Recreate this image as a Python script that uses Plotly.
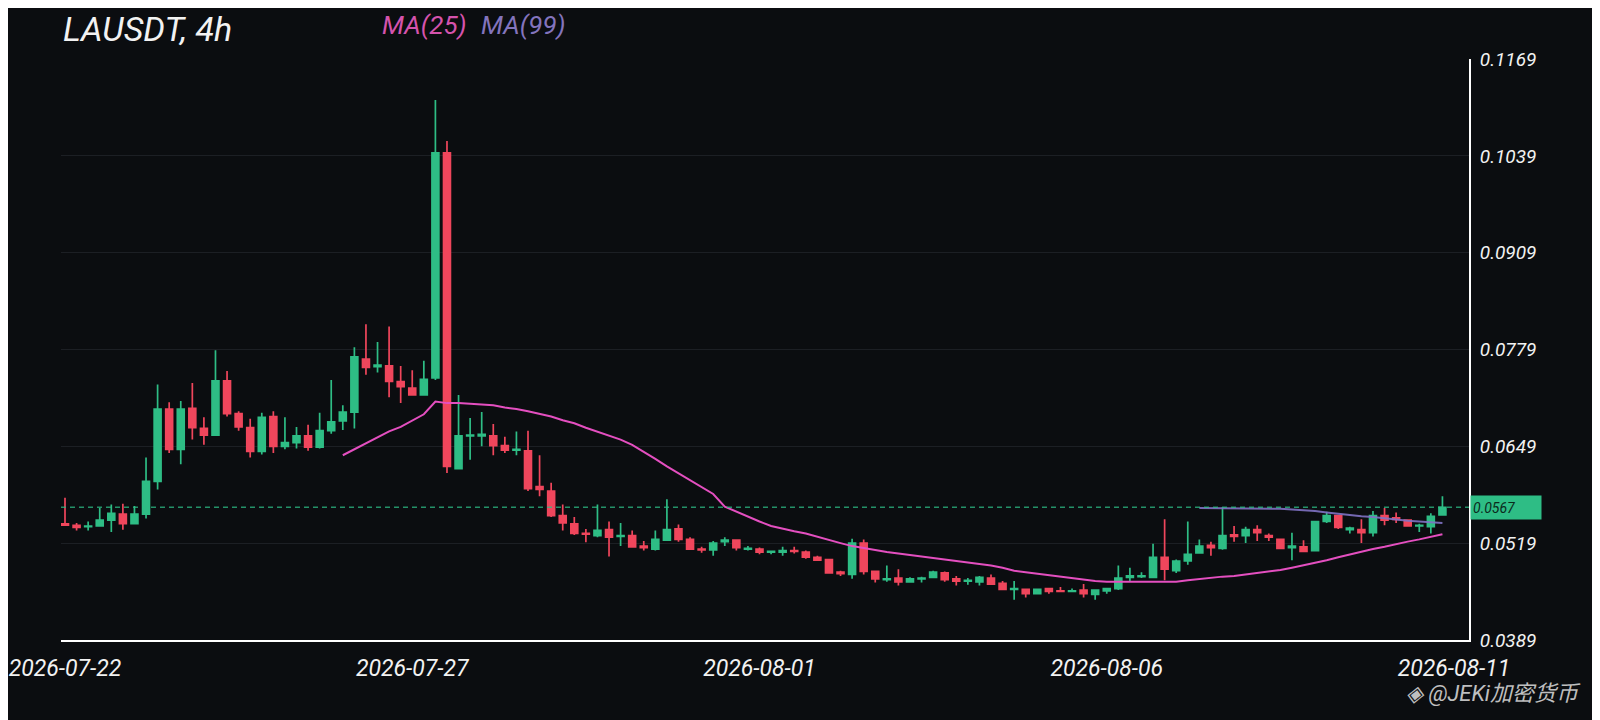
import pandas as pd
import plotly.graph_objects as go

# 4h candles, 2026-07-22 00:00 onwards
times = pd.date_range("2026-07-22 00:00", periods=120, freq="4h")

opens = [
    0.0545, 0.0543, 0.0541, 0.0542, 0.0550, 0.0558, 0.0545, 0.0558, 0.0602, 0.0699,
    0.0645, 0.0700, 0.0673, 0.0664, 0.0737, 0.0693, 0.0674, 0.0642, 0.0689, 0.0649,
    0.0654, 0.0663, 0.0648, 0.0670, 0.0683, 0.0695, 0.0766, 0.0756, 0.0757, 0.0736,
    0.0727, 0.0718, 0.0741, 0.1043, 0.0619, 0.0663, 0.0663, 0.0663, 0.0650, 0.0644,
    0.0643, 0.0595, 0.0589, 0.0556, 0.0545, 0.0532, 0.0529, 0.0537, 0.0528, 0.0529,
    0.0515, 0.0511, 0.0523, 0.0538, 0.0524, 0.0511, 0.0510, 0.0521, 0.0523, 0.0511,
    0.0511, 0.0507, 0.0507, 0.0509, 0.0507, 0.0500, 0.0497, 0.0480, 0.0477, 0.0519,
    0.0481, 0.0470, 0.0472, 0.0467, 0.0471, 0.0473, 0.0479, 0.0471, 0.0468, 0.0467,
    0.0472, 0.0465, 0.0457, 0.0457, 0.0451, 0.0458, 0.0455, 0.0454, 0.0456, 0.0450,
    0.0455, 0.0458, 0.0473, 0.0474, 0.0473, 0.0500, 0.0482, 0.0495, 0.0506, 0.0516,
    0.0512, 0.0530, 0.0529, 0.0537, 0.0529, 0.0524, 0.0513, 0.0514, 0.0509, 0.0548,
    0.0556, 0.0537, 0.0537, 0.0533, 0.0556, 0.0553, 0.0550, 0.0542, 0.0541, 0.0557,
]
highs = [
    0.0580, 0.0546, 0.0548, 0.0566, 0.0571, 0.0572, 0.0569, 0.0634, 0.0732, 0.0708,
    0.0710, 0.0734, 0.0688, 0.0778, 0.0750, 0.0696, 0.0686, 0.0694, 0.0696, 0.0688,
    0.0675, 0.0678, 0.0694, 0.0738, 0.0704, 0.0782, 0.0813, 0.0789, 0.0810, 0.0757,
    0.0751, 0.0764, 0.1114, 0.1059, 0.0718, 0.0687, 0.0695, 0.0679, 0.0662, 0.0669,
    0.0670, 0.0637, 0.0600, 0.0571, 0.0554, 0.0538, 0.0571, 0.0548, 0.0546, 0.0536,
    0.0522, 0.0536, 0.0578, 0.0544, 0.0527, 0.0514, 0.0522, 0.0527, 0.0524, 0.0515,
    0.0513, 0.0509, 0.0514, 0.0514, 0.0509, 0.0502, 0.0498, 0.0482, 0.0525, 0.0524,
    0.0481, 0.0489, 0.0484, 0.0473, 0.0474, 0.0482, 0.0481, 0.0475, 0.0472, 0.0475,
    0.0477, 0.0468, 0.0468, 0.0458, 0.0458, 0.0459, 0.0460, 0.0458, 0.0464, 0.0457,
    0.0458, 0.0489, 0.0486, 0.0480, 0.0518, 0.0551, 0.0497, 0.0548, 0.0524, 0.0521,
    0.0567, 0.0542, 0.0541, 0.0543, 0.0532, 0.0525, 0.0533, 0.0523, 0.0549, 0.0561,
    0.0557, 0.0541, 0.0551, 0.0562, 0.0566, 0.0560, 0.0551, 0.0545, 0.0559, 0.0582,
]
lows = [
    0.0542, 0.0536, 0.0536, 0.0541, 0.0534, 0.0537, 0.0545, 0.0552, 0.0591, 0.0640,
    0.0625, 0.0658, 0.0651, 0.0664, 0.0689, 0.0670, 0.0634, 0.0638, 0.0640, 0.0645,
    0.0646, 0.0643, 0.0646, 0.0666, 0.0671, 0.0673, 0.0745, 0.0748, 0.0715, 0.0707,
    0.0717, 0.0717, 0.0738, 0.0613, 0.0618, 0.0631, 0.0649, 0.0637, 0.0640, 0.0637,
    0.0589, 0.0582, 0.0554, 0.0536, 0.0530, 0.0520, 0.0527, 0.0501, 0.0515, 0.0513,
    0.0509, 0.0509, 0.0522, 0.0521, 0.0510, 0.0506, 0.0502, 0.0515, 0.0509, 0.0509,
    0.0504, 0.0504, 0.0502, 0.0505, 0.0498, 0.0495, 0.0478, 0.0475, 0.0471, 0.0477,
    0.0466, 0.0467, 0.0462, 0.0466, 0.0466, 0.0472, 0.0467, 0.0462, 0.0463, 0.0462,
    0.0463, 0.0456, 0.0443, 0.0446, 0.0450, 0.0451, 0.0454, 0.0454, 0.0446, 0.0443,
    0.0451, 0.0456, 0.0468, 0.0472, 0.0472, 0.0469, 0.0479, 0.0490, 0.0505, 0.0502,
    0.0510, 0.0521, 0.0519, 0.0522, 0.0522, 0.0511, 0.0496, 0.0507, 0.0508, 0.0546,
    0.0538, 0.0532, 0.0519, 0.0528, 0.0543, 0.0546, 0.0541, 0.0534, 0.0532, 0.0557,
]
closes = [
    0.0543, 0.0540, 0.0542, 0.0550, 0.0559, 0.0545, 0.0558, 0.0602, 0.0699, 0.0645,
    0.0699, 0.0674, 0.0664, 0.0737, 0.0693, 0.0675, 0.0642, 0.0688, 0.0649, 0.0654,
    0.0663, 0.0648, 0.0670, 0.0682, 0.0695, 0.0769, 0.0755, 0.0758, 0.0736, 0.0729,
    0.0718, 0.0739, 0.1043, 0.0622, 0.0663, 0.0664, 0.0665, 0.0650, 0.0644, 0.0645,
    0.0592, 0.0591, 0.0556, 0.0546, 0.0532, 0.0531, 0.0536, 0.0527, 0.0529, 0.0514,
    0.0513, 0.0524, 0.0537, 0.0524, 0.0511, 0.0510, 0.0519, 0.0523, 0.0513, 0.0512,
    0.0507, 0.0508, 0.0509, 0.0508, 0.0500, 0.0496, 0.0479, 0.0478, 0.0519, 0.0481,
    0.0471, 0.0471, 0.0467, 0.0471, 0.0472, 0.0480, 0.0470, 0.0468, 0.0469, 0.0473,
    0.0464, 0.0457, 0.0458, 0.0451, 0.0457, 0.0454, 0.0454, 0.0455, 0.0451, 0.0456,
    0.0458, 0.0472, 0.0475, 0.0475, 0.0500, 0.0484, 0.0495, 0.0504, 0.0515, 0.0513,
    0.0529, 0.0528, 0.0537, 0.0533, 0.0527, 0.0512, 0.0515, 0.0508, 0.0548, 0.0556,
    0.0540, 0.0539, 0.0533, 0.0556, 0.0550, 0.0551, 0.0542, 0.0543, 0.0555, 0.0567,
]

# moving averages as drawn (MA25 starts at candle 24, MA99 at candle 98)
ma25 = [None] * 24 + [
    0.0637, 0.0645, 0.0653, 0.0661, 0.0669, 0.0675, 0.0683, 0.0692, 0.0709, 0.0707,
    0.0707, 0.0706, 0.0705, 0.0704, 0.0701, 0.0699, 0.0696, 0.0693, 0.0689, 0.0684,
    0.0680, 0.0674, 0.0669, 0.0664, 0.0658, 0.0651, 0.0642, 0.0632, 0.0622, 0.0613,
    0.0604, 0.0594, 0.0585, 0.0568, 0.0561, 0.0554, 0.0548, 0.0542, 0.0538, 0.0535,
    0.0532, 0.0528, 0.0524, 0.0519, 0.0515, 0.0512, 0.0509, 0.0507, 0.0505, 0.0503,
    0.0502, 0.0500, 0.0498, 0.0496, 0.0494, 0.0492, 0.0489, 0.0486, 0.0482, 0.0480,
    0.0478, 0.0476, 0.0473, 0.0471, 0.0470, 0.0468, 0.0467, 0.0467, 0.0467, 0.0466,
    0.0466, 0.0466, 0.0467, 0.0469, 0.0471, 0.0472, 0.0474, 0.0475, 0.0477, 0.0478,
    0.0481, 0.0483, 0.0486, 0.0489, 0.0492, 0.0496, 0.0500, 0.0504, 0.0508, 0.0511,
    0.0514, 0.0518, 0.0521, 0.0524, 0.0528, 0.0531,
]
ma99 = [None] * 98 + [
    0.0566, 0.0566, 0.0566, 0.0566, 0.0566, 0.0566, 0.0565, 0.0565, 0.0564, 0.0563,
    0.0562, 0.0560, 0.0558, 0.0557, 0.0555, 0.0554, 0.0552, 0.0551, 0.0549, 0.0548,
    0.0547, 0.0546,
]

price_ticks = [0.0389, 0.0519, 0.0649, 0.0779, 0.0909, 0.1039, 0.1169]
date_ticks = ["2026-07-22", "2026-07-27", "2026-08-01", "2026-08-06", "2026-08-11"]
last_price = closes[-1]

UP = "#2ebd85"
DOWN = "#f0465c"
BG = "#0b0d10"
FONT = "Roboto, Inter, 'DejaVu Sans', sans-serif"

W, H = 1600, 720
L, R, T, B = 53, 139, 51, 88


def paper_x(px):
    return (px - L) / (W - L - R)


def paper_y(py):
    return (H - B - py) / (H - T - B)


fig = go.Figure()
fig.add_trace(go.Candlestick(
    x=times, open=opens, high=highs, low=lows, close=closes,
    increasing=dict(line=dict(color=UP, width=1.7), fillcolor=UP),
    decreasing=dict(line=dict(color=DOWN, width=1.7), fillcolor=DOWN),
    whiskerwidth=0, showlegend=False, hoverinfo="skip",
))
fig.add_trace(go.Scatter(x=times, y=ma25, mode="lines",
                         line=dict(color="#e44fc0", width=2), showlegend=False))
fig.add_trace(go.Scatter(x=times, y=ma99, mode="lines",
                         line=dict(color="rgba(128,114,196,0.9)", width=2), showlegend=False))

fig.add_hline(y=last_price, line=dict(color="rgba(46,189,133,0.75)", width=1.5, dash="5px,4px"))

fig.add_annotation(
    text=f"{last_price:.4f}", x=paper_x(1462), xref="paper", y=last_price, yref="y",
    xanchor="left", yanchor="middle", showarrow=False, align="left",
    width=66, height=19, borderpad=2, bgcolor=UP,
    font=dict(family=FONT, size=14, color="#0b2a1c", style="italic"),
)
fig.add_annotation(
    text="LAUSDT, 4h", x=0, xref="paper", y=paper_y(21), yref="paper",
    xanchor="left", yanchor="middle", showarrow=False,
    font=dict(family=FONT, size=34, color="#f2f2f2", style="italic"),
)
fig.add_annotation(
    text="MA(25)", x=paper_x(372), xref="paper", y=paper_y(17), yref="paper",
    xanchor="left", yanchor="middle", showarrow=False,
    font=dict(family=FONT, size=26, color="#d553ad", style="italic"),
)
fig.add_annotation(
    text="MA(99)", x=paper_x(471), xref="paper", y=paper_y(17), yref="paper",
    xanchor="left", yanchor="middle", showarrow=False,
    font=dict(family=FONT, size=26, color="#8374bd", style="italic"),
)
fig.add_annotation(
    text="◈ @JEKi加密货币", x=paper_x(1396), xref="paper", y=paper_y(685), yref="paper",
    xanchor="left", yanchor="middle", showarrow=False,
    font=dict(family="Roboto, 'Noto Sans CJK SC', sans-serif", size=22, color="rgba(225,225,225,0.85)"),
)

fig.update_layout(
    width=W, height=H,
    margin=dict(l=L, r=R, t=T, b=B),
    paper_bgcolor=BG, plot_bgcolor=BG,
    font=dict(family=FONT, color="#f2f2f2", style="italic"),
    showlegend=False,
    boxgap=0.15, boxgroupgap=0.3,
)
fig.update_xaxes(
    range=["2026-07-21 22:37", "2026-08-11 05:11"],
    rangeslider_visible=False, automargin=False,
    tickvals=date_ticks, ticktext=date_ticks,
    showgrid=False, zeroline=False,
    showline=True, linecolor="#ffffff", linewidth=2,
    ticks="", ticklabelstandoff=6,
    tickfont=dict(family=FONT, size=23, color="#f2f2f2", style="italic"),
)
fig.update_yaxes(
    range=[0.03889, 0.11691], side="right", automargin=False,
    tickvals=price_ticks, ticktext=[f"{v:.4f}" for v in price_ticks],
    showgrid=True, gridcolor="#1c1f24", gridwidth=1, zeroline=False,
    showline=True, linecolor="#ffffff", linewidth=2,
    ticks="", ticklabelstandoff=5,
    tickfont=dict(family=FONT, size=19, color="#f2f2f2", style="italic"),
)

fig.write_html("out.html")
